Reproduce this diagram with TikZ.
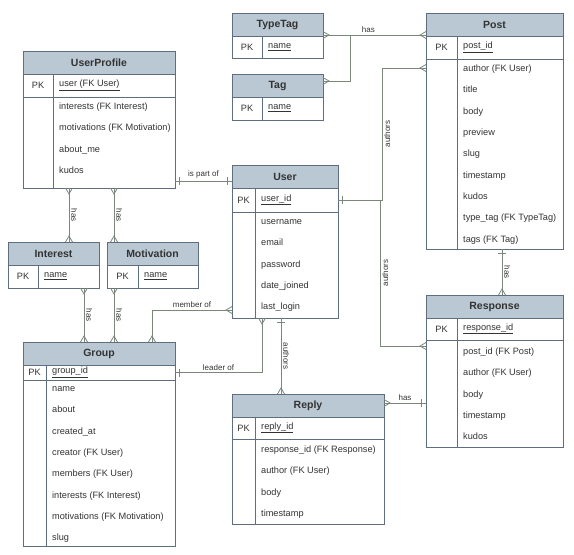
\documentclass[tikz,border=0pt]{standalone}
\usepackage{fontspec}
\setmainfont{Liberation Sans}
\usetikzlibrary{positioning}

\definecolor{headbg}{HTML}{BAC8D3}
\definecolor{edge}{HTML}{5E6E7E}
\definecolor{wire}{HTML}{7A887A}
\definecolor{ink}{HTML}{333333}

% crow's foot (many) and single bar (one)
\pgfdeclarearrow{
  name = ermany,
  setup code = {
    \pgfarrowssettipend{0pt}
    \pgfarrowssetlineend{0pt}
    \pgfarrowssetbackend{-6pt}
  },
  drawing code = {
    \pgfsetdash{}{0pt}
    \pgfpathmoveto{\pgfqpoint{0pt}{3.5pt}}
    \pgfpathlineto{\pgfqpoint{-6pt}{0pt}}
    \pgfpathlineto{\pgfqpoint{0pt}{-3.5pt}}
    \pgfusepathqstroke
  }
}
\pgfdeclarearrow{
  name = erone,
  setup code = {
    \pgfarrowssettipend{0pt}
    \pgfarrowssetlineend{0pt}
    \pgfarrowssetbackend{-5pt}
  },
  drawing code = {
    \pgfsetdash{}{0pt}
    \pgfpathmoveto{\pgfqpoint{-4.5pt}{4pt}}
    \pgfpathlineto{\pgfqpoint{-4.5pt}{-4pt}}
    \pgfusepathqstroke
  }
}

\begin{document}
\begin{tikzpicture}
    [
    x=1pt, y=-1pt,
    head/.style={draw=edge,line width=0.8pt,fill=headbg,text=ink,font=\bfseries\fontsize{10.5}{12}\selectfont,minimum height=23pt,inner sep=0pt,outer sep=0pt},
    pkrow/.style={draw=edge,line width=0.8pt,fill=white,minimum height=23pt,inner sep=0pt,outer sep=0pt},
    body/.style={draw=edge,line width=0.8pt,fill=white,inner sep=0pt,outer sep=0pt},
    col/.style={draw=edge,line width=0.8pt},
    pk/.style={text=ink,font=\fontsize{9.2}{11}\selectfont,inner sep=0pt},
    key/.style={pk,anchor=west},
    attrs/.style={text=ink,font=\fontsize{9.2}{21.3}\selectfont,align=left,anchor=north west,inner sep=0pt},
    rel/.style={draw=wire,line width=0.8pt},
    lbl/.style={text=ink,font=\fontsize{8}{10}\selectfont,inner sep=2pt}
    ]
    \useasboundingbox (0,0) rectangle (574,555);

    % UserProfile
    \node (up) at (23,51) [head,minimum width=152pt,anchor=north west] {UserProfile};
    \node (up-pk) [pkrow,minimum width=152pt,below=0pt of up] {};
    \node (up-body) [body,minimum width=152pt,minimum height=91pt,below=0pt of up-pk] {};
    \draw [col] ([xshift=30pt]up-pk.north west) -- ([xshift=30pt]up-body.south west);
    \node at ([xshift=15pt]up-pk.west) [pk] {PK};
    \node at ([xshift=36pt]up-pk.west) [key] {\underline{user (FK User)}};
    \node at ([xshift=36pt,yshift=2.5pt]up-body.north west) [attrs] {\strut interests (FK Interest)\\motivations (FK Motivation)\\about\_me\\kudos};

    % TypeTag
    \node (typetag) at (232,13) [head,minimum width=91pt,anchor=north west] {TypeTag};
    \node (typetag-pk) [pkrow,minimum width=91pt,minimum height=22pt,below=0pt of typetag] {};
    \draw [col] ([xshift=30pt]typetag-pk.north west) -- ([xshift=30pt]typetag-pk.south west);
    \node at ([xshift=15pt]typetag-pk.west) [pk] {PK};
    \node at ([xshift=36pt]typetag-pk.west) [key] {\underline{name}};

    % Tag
    \node (tag) at (232,74) [head,minimum width=91pt,anchor=north west] {Tag};
    \node (tag-pk) [pkrow,minimum width=91pt,below=0pt of tag] {};
    \draw [col] ([xshift=30pt]tag-pk.north west) -- ([xshift=30pt]tag-pk.south west);
    \node at ([xshift=15pt]tag-pk.west) [pk] {PK};
    \node at ([xshift=36pt]tag-pk.west) [key] {\underline{name}};

    % Post
    \node (post) at (426,13) [head,minimum width=137pt,anchor=north west] {Post};
    \node (post-pk) [pkrow,minimum width=137pt,below=0pt of post] {};
    \node (post-body) [body,minimum width=137pt,minimum height=190pt,below=0pt of post-pk] {};
    \draw [col] ([xshift=31pt]post-pk.north west) -- ([xshift=31pt]post-body.south west);
    \node at ([xshift=15.5pt]post-pk.west) [pk] {PK};
    \node at ([xshift=37pt]post-pk.west) [key] {\underline{post\_id}};
    \node at ([xshift=37pt,yshift=2.5pt]post-body.north west) [attrs] {\strut author (FK User)\\title\\body\\preview\\slug\\timestamp\\kudos\\type\_tag (FK TypeTag)\\tags (FK Tag)};

    % User
    \node (user) at (232,165) [head,minimum width=106pt,anchor=north west] {User};
    \node (user-pk) [pkrow,minimum width=106pt,minimum height=24pt,below=0pt of user] {};
    \node (user-body) [body,minimum width=106pt,minimum height=106pt,below=0pt of user-pk] {};
    \draw [col] ([xshift=23pt]user-pk.north west) -- ([xshift=23pt]user-body.south west);
    \node at ([xshift=11.5pt]user-pk.west) [pk] {PK};
    \node at ([xshift=29pt]user-pk.west) [key] {\underline{user\_id}};
    \node at ([xshift=29pt,yshift=2.5pt]user-body.north west) [attrs] {\strut username\\email\\password\\date\_joined\\last\_login};

    % Interest
    \node (interest) at (8,242) [head,minimum width=91pt,anchor=north west] {Interest};
    \node (interest-pk) [pkrow,minimum width=91pt,below=0pt of interest] {};
    \draw [col] ([xshift=30pt]interest-pk.north west) -- ([xshift=30pt]interest-pk.south west);
    \node at ([xshift=15pt]interest-pk.west) [pk] {PK};
    \node at ([xshift=36pt]interest-pk.west) [key] {\underline{name}};

    % Motivation
    \node (motivation) at (107,242) [head,minimum width=91pt,anchor=north west] {Motivation};
    \node (motivation-pk) [pkrow,minimum width=91pt,below=0pt of motivation] {};
    \draw [col] ([xshift=31pt]motivation-pk.north west) -- ([xshift=31pt]motivation-pk.south west);
    \node at ([xshift=15.5pt]motivation-pk.west) [pk] {PK};
    \node at ([xshift=37pt]motivation-pk.west) [key] {\underline{name}};

    % Group
    \node (group) at (23,342) [head,minimum width=152pt,anchor=north west] {Group};
    \node (group-pk) [pkrow,minimum width=152pt,minimum height=15pt,below=0pt of group] {};
    \node (group-body) [body,minimum width=152pt,minimum height=166pt,below=0pt of group-pk] {};
    \draw [col] ([xshift=23pt]group-pk.north west) -- ([xshift=23pt]group-body.south west);
    \node at ([xshift=11.5pt]group-pk.west) [pk] {PK};
    \node at ([xshift=29pt]group-pk.west) [key] {\underline{group\_id}};
    \node at ([xshift=29pt,yshift=3.5pt]group-body.north west) [attrs] {\strut name\\about\\created\_at\\creator (FK User)\\members (FK User)\\interests (FK Interest)\\motivations (FK Motivation)\\slug};

    % Reply
    \node (reply) at (232,394) [head,minimum width=152pt,anchor=north west] {Reply};
    \node (reply-pk) [pkrow,minimum width=152pt,minimum height=22pt,below=0pt of reply] {};
    \node (reply-body) [body,minimum width=152pt,minimum height=85pt,below=0pt of reply-pk] {};
    \draw [col] ([xshift=23pt]reply-pk.north west) -- ([xshift=23pt]reply-body.south west);
    \node at ([xshift=11.5pt]reply-pk.west) [pk] {PK};
    \node at ([xshift=29pt]reply-pk.west) [key] {\underline{reply\_id}};
    \node at ([xshift=29pt,yshift=1.5pt]reply-body.north west) [attrs] {\strut response\_id (FK Response)\\author (FK User)\\body\\timestamp};

    % Response
    \node (resp) at (426,295) [head,minimum width=137pt,anchor=north west] {Response};
    \node (resp-pk) [pkrow,minimum width=137pt,minimum height=22pt,below=0pt of resp] {};
    \node (resp-body) [body,minimum width=137pt,minimum height=107pt,below=0pt of resp-pk] {};
    \draw [col] ([xshift=31pt]resp-pk.north west) -- ([xshift=31pt]resp-body.south west);
    \node at ([xshift=15.5pt]resp-pk.west) [pk] {PK};
    \node at ([xshift=37pt]resp-pk.west) [key] {\underline{response\_id}};
    \node at ([xshift=37pt,yshift=0.5pt]resp-body.north west) [attrs] {\strut post\_id (FK Post)\\author (FK User)\\body\\timestamp\\kudos};

    % relations
    \draw [rel,{erone}-{erone}] ([yshift=7pt]up-body.south east) -- ([yshift=7pt]user.south west)
      node [lbl,midway,above] {is part of};
    \draw [rel,{ermany}-{ermany}] ([yshift=1pt]typetag.south east) -- ([yshift=1pt]post.south west)
      node [lbl,pos=.44,above] {has};
    \draw [rel,{ermany}-] ([yshift=-7pt]tag.north east) -| ([xshift=27pt,yshift=1pt]typetag.south east);
    \draw [rel,{erone}-{ermany}] (user-pk.east) -- ++(44,0) |- ([yshift=-9pt]post-body.north west)
      node [lbl,pos=.25,rotate=90,anchor=north] {authors};
    \draw [rel,{erone}-{ermany}] (user-pk.east) -- ++(42,0) |- ([yshift=-6pt]resp-body.north west)
      node [lbl,pos=.25,rotate=90,anchor=north] {authors};
    \draw [rel,{erone}-{ermany}] ([xshift=76pt]post-body.south west) -- ([xshift=76pt]resp.north west)
      node [lbl,midway,rotate=-90,anchor=south] {has};
    \draw [rel,{ermany}-{erone}] ([yshift=-9pt]reply.north east) -- ([yshift=-9pt]reply.north east -| resp-body.west)
      node [lbl,midway,above] {has};
    \draw [rel,{erone}-{ermany}] ([xshift=49pt]user-body.south west) -- ([xshift=49pt]reply.north west)
      node [lbl,midway,rotate=-90,anchor=south] {authors};
    \draw [rel,{ermany}-{erone}] ([xshift=30pt]user-body.south west) |- (group-pk.east)
      node [lbl,pos=.75,above] {leader of};
    \draw [rel,{ermany}-{ermany}] ([yshift=8pt]user-body.south west) -| ([xshift=129pt]group.north west)
      node [lbl,pos=.25,above] {member of};
    \draw [rel,{ermany}-{ermany}] ([xshift=46pt]up-body.south west) -- ([xshift=61pt]interest.north west)
      node [lbl,midway,rotate=-90,anchor=south] {has};
    \draw [rel,{ermany}-{ermany}] ([xshift=91pt]up-body.south west) -- ([xshift=7pt]motivation.north west)
      node [lbl,midway,rotate=-90,anchor=south] {has};
    \draw [rel,{ermany}-{ermany}] ([xshift=76pt]interest-pk.south west) -- ([xshift=61pt]group.north west)
      node [lbl,midway,rotate=-90,anchor=south] {has};
    \draw [rel,{ermany}-{ermany}] ([xshift=7pt]motivation-pk.south west) -- ([xshift=91pt]group.north west)
      node [lbl,midway,rotate=-90,anchor=south] {has};
\end{tikzpicture}
\end{document}
